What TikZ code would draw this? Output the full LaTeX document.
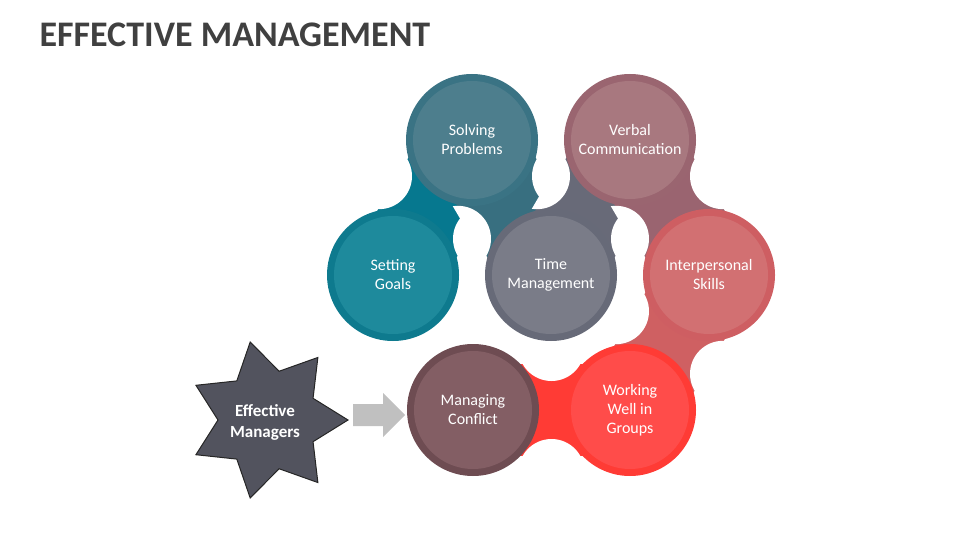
\documentclass[tikz,border=0pt]{standalone}
\usepackage{fontspec}
\setmainfont{Carlito}
\usetikzlibrary{shapes.geometric,calc}
\definecolor{c1o}{HTML}{0E7A8E}\definecolor{c1i}{HTML}{1E8A9C}
\definecolor{c2o}{HTML}{3A7384}\definecolor{c2i}{HTML}{4D7E8D}
\definecolor{c3o}{HTML}{676A78}\definecolor{c3i}{HTML}{7A7C88}
\definecolor{c4o}{HTML}{9A6570}\definecolor{c4i}{HTML}{A8787F}
\definecolor{c5o}{HTML}{CE5E62}\definecolor{c5i}{HTML}{D27072}
\definecolor{c6o}{HTML}{FF3B35}\definecolor{c6i}{HTML}{FF4C4A}
\definecolor{c7o}{HTML}{6E4C52}\definecolor{c7i}{HTML}{835E64}
\definecolor{b1}{HTML}{06788F}\definecolor{b2}{HTML}{386F80}
\definecolor{b3}{HTML}{686A78}\definecolor{b4}{HTML}{9A6470}
\definecolor{b5}{HTML}{CF6062}\definecolor{b6}{HTML}{FF3B35}
\definecolor{starc}{HTML}{52535E}
\definecolor{arrc}{HTML}{C0C0C0}
\newcommand{\mybridge}[3]{%
 \fill[#3] ($(#1)!46pt!90:(#2)$) -- ($(#2)!46pt!-90:(#1)$) -- ($(#2)!46pt!90:(#1)$) -- ($(#1)!46pt!-90:(#2)$) -- cycle;
 \begin{scope}
 \clip ($(#1)!50pt!90:(#2)$) -- ($(#2)!50pt!-90:(#1)$) -- ($(#2)!50pt!90:(#1)$) -- ($(#1)!50pt!-90:(#2)$) -- cycle;
 \coordinate (m) at ($(#1)!0.5!(#2)$);
 \fill[white] ($(m)!62pt!90:(#2)$) circle (33pt) ($(m)!62pt!-90:(#2)$) circle (33pt);
 \end{scope}}
\begin{document}
\begin{tikzpicture}[x=1pt,y=-1pt,
  ring/.style={circle,minimum size=132pt,inner sep=0pt,fill=#1},
  core/.style={circle,minimum size=118pt,inner sep=0pt,fill=#1,text=white,align=center,font=\fontsize{16}{19}\selectfont}]
\useasboundingbox (0,0) rectangle (960,540);
\node[anchor=west,font=\bfseries\fontsize{36}{40}\selectfont,text=black!75] (title) at (36,35) {EFFECTIVE MANAGEMENT};
\coordinate (p1) at (393,275);
\coordinate (p2) at (472,140);
\coordinate (p3) at (551,275);
\coordinate (p4) at (630,140);
\coordinate (p5) at (709,275);
\coordinate (p6) at (630,410);
\coordinate (p7) at (473,410);
\mybridge{p1}{p2}{b1}
\mybridge{p2}{p3}{b2}
\mybridge{p3}{p4}{b3}
\mybridge{p4}{p5}{b4}
\mybridge{p5}{p6}{b5}
\mybridge{p6}{p7}{b6}
\foreach \i/\t in {1/{Setting\\Goals},2/{Solving\\Problems},3/{Time\\Management},4/{Verbal\\Communication},5/{Interpersonal\\Skills},6/{Working\\Well in\\Groups},7/{Managing\\Conflict}}{
  \node[ring=c\i o] (r\i) at (p\i) {};
  \node[core=c\i i] (n\i) at (p\i) {\t};
}
\node[star,star points=7,star point ratio=1.6,minimum size=160pt,inner sep=0pt,rotate=-90,fill=starc,draw=black!85,line width=1pt] (star) at (268,420) {};
\node[text=white,font=\bfseries\fontsize{17}{21}\selectfont,align=center] (lbl) at (265,422) {Effective\\Managers};
\coordinate (a0) at (353,415);
\fill[arrc] (a0) ++(0,-11) -- ++(30,0) -- ++(0,-11) -- ++(22,22) -- ++(-22,22) -- ++(0,-11) -- ++(-30,0) -- cycle;
\end{tikzpicture}
\end{document}
